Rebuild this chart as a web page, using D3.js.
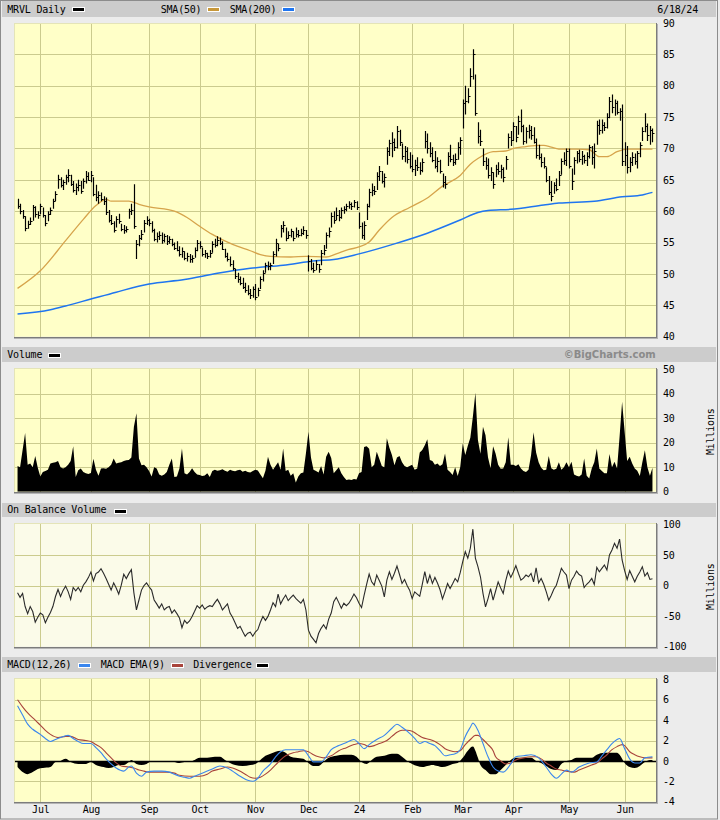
<!DOCTYPE html>
<html><head><meta charset="utf-8">
<script src="https://cdn.jsdelivr.net/npm/d3@7"></script>
<style>
html,body{margin:0;padding:0;background:#ececec;}
svg{display:block;}
text{font-family:"DejaVu Sans Mono",monospace;font-size:10px;fill:#000;letter-spacing:-0.2px;}
</style></head><body>
<svg id="c" width="720" height="820"></svg>
<script>
// ---------------- DATA ----------------
const ticker = "MRVL Daily";
const lastDate = "6/18/24";
const monthLabels = ["Jul","Aug","Sep","Oct","Nov","Dec","24","Feb","Mar","Apr","May","Jun"];
const monthStartIdx = [9,29,52,72,94,115,135,156,176,196,218,240];
const priceTicks = [40,45,50,55,60,65,70,75,80,85,90];
const volumeTicks = [0,10,20,30,40,50];
const obvTicks = [-100,-50,0,50,100];
const macdTicks = [-4,-2,0,2,4,6,8];

const highs = [
62.0,61.2,60.2,59.2,58.5,59.0,61.0,60.8,60.0,61.2,
60.6,59.4,60.0,60.6,62.0,63.2,65.8,65.4,65.0,65.8,
66.7,65.8,64.8,64.4,65.0,64.8,65.2,66.4,66.2,66.4,
65.4,64.2,63.2,63.0,62.4,62.2,60.2,59.4,58.4,59.2,
59.6,58.0,57.8,57.6,60.4,61.2,64.3,55.4,56.2,57.0,
58.6,59.2,58.8,58.4,57.2,56.6,56.8,56.6,56.4,56.2,
56.0,55.6,55.0,55.2,54.4,54.2,53.6,53.4,53.2,53.0,
54.2,55.4,55.2,54.2,53.8,53.4,53.8,55.2,55.6,56.0,
55.8,55.2,54.0,53.4,52.8,52.2,50.8,50.2,49.6,49.4,
48.6,48.2,47.6,48.0,48.4,47.8,49.6,50.6,51.8,52.0,
51.8,53.6,55.6,54.8,57.8,58.4,57.4,56.8,57.2,56.8,
57.4,57.0,57.2,57.6,57.0,53.0,52.4,51.8,52.2,51.6,
53.8,54.6,56.6,57.4,59.8,60.0,60.6,60.2,60.6,60.8,
61.2,61.6,61.4,61.8,61.6,59.8,58.2,58.4,61.2,63.6,
64.4,64.0,66.2,67.2,66.4,66.0,70.2,71.4,72.6,71.6,
73.6,73.0,70.8,70.4,70.2,69.4,69.0,68.2,68.6,67.8,
68.4,72.8,72.4,71.0,70.2,69.6,68.6,68.2,66.0,65.6,
69.4,70.6,69.0,69.2,71.0,71.8,77.8,80.0,79.6,82.8,
85.8,81.8,74.2,73.0,70.0,68.6,68.4,67.0,66.2,67.4,
67.8,67.4,67.0,68.8,72.4,72.8,74.2,73.6,75.2,76.2,
73.8,73.4,73.8,73.6,73.4,71.6,70.6,69.2,68.6,67.0,
65.6,64.8,64.6,65.2,66.4,68.4,69.4,70.0,70.0,66.8,
68.6,69.6,69.8,69.6,69.0,69.4,70.6,70.4,70.8,74.4,
74.6,74.6,74.2,75.6,78.2,78.6,77.8,77.6,76.4,77.0,
71.0,70.4,68.6,69.4,69.2,69.6,71.0,73.4,75.6,74.0,
73.6,73.2];

const lows = [
60.4,59.5,58.8,56.8,57.2,57.8,58.5,59.0,58.8,59.5,
59.0,57.6,58.4,59.4,60.4,61.6,63.6,63.8,63.4,64.2,
64.6,64.0,63.0,62.6,63.2,62.8,63.6,64.4,64.8,64.6,
62.4,61.6,61.2,61.6,61.0,59.4,58.2,57.8,56.6,57.4,
58.0,56.8,56.4,56.6,58.8,59.4,57.2,52.4,54.4,55.4,
56.6,57.8,57.6,56.6,55.2,55.0,55.4,54.8,55.0,54.6,
54.8,54.4,53.8,53.6,52.8,52.6,52.2,52.0,51.8,51.8,
52.6,53.6,54.0,52.8,52.6,52.4,52.6,53.4,54.2,54.4,
54.6,53.8,52.6,52.0,51.2,50.6,49.2,48.6,48.2,47.6,
47.0,46.6,46.0,46.2,45.8,46.4,47.6,48.8,50.2,50.6,
50.6,51.6,52.8,53.6,55.8,56.6,55.2,55.6,55.8,55.2,
55.8,55.8,56.0,56.2,55.6,50.4,50.6,50.2,50.6,50.2,
51.4,53.0,54.0,55.8,57.4,58.0,58.6,58.4,58.8,59.6,
60.0,60.4,60.2,60.6,60.2,57.2,55.6,55.4,58.6,60.6,
62.4,62.6,63.4,64.8,64.4,63.8,67.4,68.8,68.6,69.6,
70.0,70.4,68.2,67.8,67.6,66.8,66.2,65.6,66.4,65.8,
66.2,70.0,69.2,68.6,67.8,66.8,66.2,66.0,63.8,63.6,
67.2,67.8,67.2,67.4,68.2,69.0,73.2,75.4,77.2,79.8,
81.0,75.2,70.8,70.4,67.2,66.6,65.2,64.8,63.6,65.4,
65.8,65.2,64.6,66.6,70.0,70.4,71.2,71.0,72.2,72.6,
70.6,70.8,71.6,71.4,70.8,68.4,68.2,67.0,66.8,64.6,
62.6,61.6,62.8,63.2,64.0,65.8,67.4,67.2,66.8,63.4,
65.8,67.6,67.8,67.4,67.6,67.2,68.4,67.4,66.8,70.6,
72.2,72.4,72.8,73.2,74.8,75.6,75.2,75.4,74.4,67.2,
67.2,66.0,66.2,67.2,67.4,66.8,68.6,71.2,72.6,71.2,
70.6,71.0];

const closes = [
60.8,60.0,59.2,57.4,58.0,58.4,60.6,59.6,59.4,60.8,
59.4,58.2,59.6,60.2,61.6,62.8,65.2,64.2,64.6,65.4,
65.8,64.4,63.4,63.8,64.2,63.2,64.8,65.6,65.0,65.8,
62.8,62.2,62.6,62.0,61.6,59.8,58.6,58.2,57.0,58.8,
58.4,57.2,57.0,57.2,60.0,60.2,57.6,54.8,55.8,56.4,
58.2,58.6,58.2,57.0,55.6,56.0,56.2,55.4,56.0,55.2,
55.6,54.8,54.2,53.8,53.2,53.6,52.6,52.8,52.4,52.6,
53.8,55.0,54.4,53.2,53.4,52.8,53.4,54.8,54.6,55.4,
55.0,54.0,52.8,52.4,51.6,51.0,49.6,49.2,48.6,48.0,
47.4,47.0,46.6,47.6,46.4,47.4,49.2,50.2,51.4,51.2,
51.4,53.2,55.0,54.2,57.4,57.8,55.8,56.2,56.8,55.8,
56.4,56.2,56.6,57.0,56.2,52.0,51.0,50.6,51.6,50.8,
53.4,53.8,56.2,56.8,59.2,58.6,59.4,59.0,60.2,60.4,
60.8,61.2,60.8,61.4,60.6,57.6,56.2,57.8,60.8,63.0,
63.4,63.2,65.6,66.4,64.8,65.4,69.6,70.8,71.0,70.2,
72.8,71.0,68.8,69.6,68.4,67.2,66.8,67.4,67.0,66.6,
67.8,71.2,70.0,69.2,68.2,67.2,68.0,66.4,64.6,64.4,
68.8,68.4,67.8,68.4,70.2,71.4,77.2,77.6,78.4,81.6,
85.0,75.6,72.0,71.2,68.0,67.4,65.8,66.2,64.4,66.8,
66.4,66.8,65.4,68.4,71.8,71.4,73.6,71.8,74.4,73.6,
71.2,72.8,73.0,72.2,71.0,69.0,68.6,67.8,67.2,65.0,
63.0,62.4,64.2,63.6,65.8,68.0,68.2,69.6,67.2,64.8,
68.2,69.2,68.4,68.8,68.2,68.8,70.2,68.6,69.6,73.8,
73.0,73.8,73.4,75.0,77.6,76.6,77.2,75.8,76.0,68.0,
69.0,67.0,67.8,68.6,68.0,69.2,70.6,72.8,73.6,72.2,
73.0,72.4];

const sma50Days   = [0,9,19,26,31,35,37,44,48,52,62,67,72,77,85,92,96,100,108,114,122,126,131,135,139,143,148,155,162,168,175,179,182,188,193,196,201,206,208,211,214,221,226,230,233,237,241,246,251];
const sma50Values = [47.7,50.5,55.3,58.7,60.9,61.9,61.6,61.6,61.1,60.7,60.0,59.0,57.6,56.3,54.7,53.7,53.1,52.8,52.7,52.8,52.7,53.2,53.9,54.3,55.1,57.0,59.0,60.6,62.1,64.0,65.7,67.5,68.4,69.5,69.6,70.0,70.3,70.5,70.5,70.2,69.9,69.9,69.8,68.7,68.7,69.5,69.9,69.9,69.9];
const sma200Days   = [0,13,19,29,39,52,66,79,92,105,118,125,135,149,162,175,182,186,195,208,214,228,239,247,251];
const sma200Values = [43.6,44.3,44.9,46.0,47.1,48.4,49.1,50.1,50.9,51.4,52.1,52.3,53.2,54.8,56.5,58.6,59.8,60.1,60.3,61.0,61.3,61.6,62.3,62.6,63.0];

// volume, millions
const volume = [
10.5,10,17,24,11,11.5,10,14.6,9.8,6.2,
8,8.5,9,11.5,11.8,12,12.5,10,9.5,10,
11,12.5,18.6,6,8.8,9.5,8,7.5,7.2,7.6,
13.5,9,6.5,9.5,9.6,9.4,10,11,13.6,11.5,
11.8,12,12.5,12.8,13,14,26.5,32,13.6,10.8,
11,10,8.5,6.2,10,9.5,7,6.5,7,8,
11,13.6,6,6.2,9.5,17.6,7.5,7,8,9.6,
8,7,6.8,6.4,6.6,7.5,6,8.5,9,8.6,
8.8,9.2,8.6,8.2,9,8.6,8.4,8.8,9,8.2,
8.6,8,7.8,8.5,9,8.7,7,5.5,8.6,14.3,
11,9,10.5,12,9,17.6,8.5,9,6.5,7.5,
3.8,6.2,7.5,7.8,15.6,24.5,14,9,8.5,7.8,
10.5,7,14.3,16.3,13.8,7.5,8.8,10,7.5,6,
4.8,5,4.8,5.2,5,7.5,8,18.3,18.6,17.5,
10,11,16.3,13.5,10.5,10,21.8,18,15,10.8,
14,14.6,12,10.5,10,10.5,11,9,9.5,16,
17,19,21.4,13,12.5,11,11.5,10.5,11.2,15.6,
9,8,6.8,10,6.4,10,19.7,15,18.8,22,
30.6,40.4,21.1,15.5,26.5,23.1,14,9.6,18.6,15.5,
11,9.4,9.5,12,22.2,11,11,10.5,11.2,9.5,
8.5,8,9,14.9,24.3,16,12,9.8,8.8,9,
14.6,9.6,9,9.4,12,9,10,12,10,12.2,
7,6.5,6.2,7,13.6,6.5,5.4,9.5,12,17.6,
9.5,8.5,7.5,7.5,15.4,10,12.2,9.5,22.4,36.7,
24.5,12.5,14.3,11.5,9.5,8.6,6.4,12,16.9,10,
6.5,9.8];

// on balance volume, millions
const obv = [
-11.8,-19.4,-12.9,-34.4,-46,-34.4,-42.5,-60,-52,-45,
-48,-61,-52,-44,-34,-18,-6.5,-18,-8,-1,
-10,-22.6,-3.2,-8.6,-3.2,-10.2,0.5,6,12.9,22,
7.5,19.4,22,27.4,20,11.3,2,-7.5,4.3,-4,
-14,0.5,18.3,11.3,19.4,26,-12,-39.8,-23.7,-7.5,
0,4.3,-2,-7.5,-23.7,-30,-37,-30,-39.8,-36,
-34.4,-45,-39.8,-46,-53,-69,-57,-62,-58,-50.5,
-42,-33,-37,-31.7,-38.7,-35,-33,-34.4,-28,-22.6,
-30,-39.8,-35,-30,-45,-52,-61,-70,-66.7,-75,
-82.8,-78,-76.3,-82.8,-76,-72,-60,-50.5,-57,-50.5,
-40,-28,-34.4,-14,-30,-22,-15.6,-24.7,-20,-15.6,
-21,-25,-29,-22.6,-40,-73,-82.8,-88,-93.5,-78.5,
-70,-64,-71,-55,-45,-26.3,-19.4,-28,-37,-29,
-33,-29,-22,-14,-20,-29,-36,-16,2,18.7,
6,0.5,17,8,-1,-18.7,8.8,22.5,9.9,20,
31.8,18,3.3,9.9,0,-7.7,-21.4,-10.4,-14,-17.6,
2,22.5,3.3,17,3.3,13.2,4,-6.6,-22,-10,
3.3,-5,3,11.5,6,20.9,39,55.4,44.5,61,
92,44.5,30.7,14.3,-13,-35,-21.4,-5,-24,-9,
6,-4,-13,8,23.6,13.2,22,32.4,20,8.8,
12,17,14.3,19.8,6,29,4.4,11.5,2,-10,
-24,-16,-6,0.5,14,28,22,17,-5,8.8,
15,23.6,18,15.4,-3.3,2,6,11.5,1.6,29.6,
22.5,28,33.5,25.3,50,58,69,61,75.8,41.7,
24.2,9.9,24.2,15,6,15,22,30.7,15.4,20.9,
9.9,11];

// MACD(12,26), EMA(9) and divergence, sampled by trading-day index
const macdDays   = [0,2,4,6,9,11,13,15,17,20,22,24,26,29,31,33,35,37,39,42,44,45,47,49,51,54,57,60,62,64,66,68,70,73,75,77,80,83,85,88,91,93,95,97,100,102,104,106,110,113,115,117,120,122,124,127,130,133,135,137,139,142,145,148,150,152,155,157,159,161,163,165,167,169,171,173,175,177,179,180,182,184,186,188,190,192,195,197,200,203,206,209,211,213,215,217,219,222,226,229,231,233,235,237,238,240,242,244,246,248,251];
const macdValues = [5.4,4.5,3.6,3.1,2.6,2.2,1.9,2.1,2.3,2.5,2.2,1.9,1.7,1.7,1.3,0.8,0.2,-0.3,-0.7,-1.0,-0.6,-0.5,-1.2,-1.5,-1.1,-1.0,-1.0,-1.1,-1.3,-1.5,-1.6,-1.7,-1.5,-1.2,-1.0,-0.8,-0.5,-0.7,-1.0,-1.5,-1.9,-2.0,-1.7,-1.0,-0.3,0.4,0.9,1.1,1.1,1.1,0.5,-0.1,-0.1,0.4,1.1,1.5,1.8,2.1,1.7,1.2,1.6,2.1,2.5,3.2,3.6,3.3,2.7,2.2,1.7,1.9,1.7,1.5,1.0,0.5,0.6,0.7,1.1,2.4,3.3,3.7,3.0,1.7,0.4,-0.6,-1.0,-1.1,-0.3,0.4,0.5,0.6,0.3,-0.6,-1.3,-1.7,-1.3,-0.9,-1.1,-0.6,-0.2,-0.1,0.5,1.1,1.7,2.1,2.2,1.2,0.2,-0.2,-0.2,0.3,0.4];
const signalDays   = [0,2,4,7,9,11,13,16,19,21,24,27,29,31,33,35,37,39,41,44,46,48,50,52,56,59,62,64,68,72,75,77,80,83,85,87,90,92,94,96,98,100,102,104,106,109,111,113,115,117,119,121,124,127,130,133,135,137,139,141,143,146,148,150,152,154,156,158,160,163,165,167,169,171,173,175,177,179,181,182,184,186,188,189,191,193,195,197,200,203,205,207,209,211,213,215,217,220,222,225,227,229,231,233,235,237,239,240,242,244,246,248,251];
const signalValues = [6.0,5.3,4.7,4.0,3.5,3.0,2.6,2.3,2.4,2.4,2.1,2.0,1.9,1.6,1.3,0.8,0.3,-0.2,-0.5,-0.6,-0.7,-0.9,-1.0,-1.1,-1.1,-1.1,-1.2,-1.4,-1.5,-1.5,-1.3,-1.0,-0.8,-0.6,-0.7,-0.9,-1.3,-1.6,-1.7,-1.6,-1.3,-0.9,-0.4,0.1,0.5,0.8,0.9,1.0,0.9,0.6,0.4,0.3,0.5,1.0,1.3,1.6,1.7,1.6,1.4,1.5,1.7,2.0,2.4,2.8,3.0,3.0,2.9,2.6,2.3,2.1,1.9,1.6,1.2,1.0,0.9,1.0,1.6,2.1,2.5,2.5,2.1,1.6,1.0,0.4,0.0,-0.3,-0.2,0.1,0.3,0.4,0.4,0.2,-0.2,-0.5,-0.8,-0.9,-1.0,-1.1,-0.9,-0.6,-0.4,-0.2,0.2,0.6,1.1,1.4,1.6,1.5,0.9,0.6,0.4,0.3,0.3];
const divDays   = [0,2,4,6,8,10,13,15,17,19,21,24,27,29,31,34,36,38,40,42,44,45,47,49,51,53,56,60,62,64,66,68,70,72,75,78,80,82,84,86,89,92,94,96,98,100,102,104,106,108,110,113,115,117,119,121,123,126,129,132,134,136,138,140,142,145,148,150,152,154,156,158,160,162,164,166,168,170,172,174,176,178,180,181,182,183,185,187,189,191,193,195,197,200,203,205,207,209,211,213,215,217,219,221,224,227,229,232,235,237,238,240,242,244,246,248,250,251];
const divValues = [-0.6,-1.1,-1.3,-1.1,-0.8,-0.7,-0.6,-0.1,0.0,0.2,-0.1,-0.3,-0.3,-0.1,-0.4,-0.6,-0.7,-0.6,-0.4,-0.4,-0.1,0.1,-0.3,-0.4,-0.3,0.0,0.0,0.0,-0.1,-0.2,-0.1,-0.1,0.1,0.3,0.3,0.4,0.4,0.1,-0.2,-0.4,-0.5,-0.4,-0.3,0.1,0.5,0.7,0.9,1.0,0.8,0.4,0.3,0.2,-0.2,-0.5,-0.5,-0.1,0.3,0.5,0.6,0.6,0.4,-0.1,-0.3,0.1,0.4,0.5,0.7,0.7,0.4,0.0,-0.3,-0.5,-0.6,-0.5,-0.4,-0.5,-0.6,-0.5,-0.3,-0.2,0.3,1.0,1.4,1.0,0.3,-0.4,-0.9,-1.3,-1.3,-0.9,-0.4,0.1,0.3,0.3,0.3,0.0,-0.2,-0.5,-0.8,-0.9,-0.3,0.0,0.1,0.3,0.3,0.3,0.6,0.8,0.8,0.8,0.6,-0.2,-0.6,-0.7,-0.5,-0.1,0.1,0.1];

// ---------------- LAYOUT / STYLE ----------------
const L = 14, R = 656;
const gridColor = "#cbcb8e";
const yellow = "#ffffc8";
const obvFill = "#fbfbe9";
const sma50Color = "#d6a44c", sma50Legend = "#c8983a";
const sma200Color = "#1f75f0";
const macdColor = "#3a86ee", signalColor = "#a8443c";

const svg = d3.select("#c");
svg.append("rect").attr("x",0).attr("y",0).attr("width",720).attr("height",820).attr("fill","#ececec");

const x = d3.scaleLinear().domain([-1.4, 252.4]).range([L, R]);
const yP = d3.scaleLinear().domain([40, 90]).range([336.7, 23]);
const yV = d3.scaleLinear().domain([0, 50]).range([491.7, 369.3]);
const yO = d3.scaleLinear().domain([-100, 100]).range([646.7, 524.3]);
const yM = d3.scaleLinear().domain([-4, 8]).range([801.7, 679.3]);

const px = v => Math.round(v) + 0.5;

function header(top, h){
  svg.append("rect").attr("x",2).attr("y",top).attr("width",714).attr("height",h).attr("fill","#cccccc");
}
function swatch(xx, top, color){
  svg.append("rect").attr("x",xx+0.5).attr("y",top+6.5).attr("width",12).attr("height",4)
    .attr("fill",color).attr("stroke","#ffffff").attr("stroke-width",1);
}
function label(xx, yy, t, anchor){
  svg.append("text").attr("x",xx).attr("y",yy).attr("text-anchor",anchor||"start").text(t);
}

function panel(id, top, bottom, fill, yScale, gridVals){
  const g = svg.append("g");
  g.append("rect").attr("x",L).attr("y",top).attr("width",R-L).attr("height",bottom-top).attr("fill",fill);
  g.selectAll("line.vg").data(monthStartIdx).join("line").attr("class","vg")
    .attr("x1",d=>px(x(d))).attr("x2",d=>px(x(d))).attr("y1",top).attr("y2",bottom)
    .attr("stroke",gridColor).attr("stroke-width",1).attr("shape-rendering","crispEdges");
  g.selectAll("line.hg").data(gridVals).join("line").attr("class","hg")
    .attr("x1",L).attr("x2",R).attr("y1",d=>px(yScale(d))).attr("y2",d=>px(yScale(d)))
    .attr("stroke",gridColor).attr("stroke-width",1).attr("shape-rendering","crispEdges");
  svg.append("clipPath").attr("id",id).append("rect").attr("x",L).attr("y",top).attr("width",R-L).attr("height",bottom-top);
  return g;
}
function frame(top, bottom){
  const g = svg.append("g").attr("shape-rendering","crispEdges");
  g.append("line").attr("x1",L).attr("x2",R).attr("y1",top+0.5).attr("y2",top+0.5).attr("stroke","#e4e4b8");
  g.append("line").attr("x1",L+0.5).attr("x2",L+0.5).attr("y1",top).attr("y2",bottom).attr("stroke","#e4e4b8");
  g.append("line").attr("x1",L).attr("x2",R+1).attr("y1",Math.round(bottom)+0.5).attr("y2",Math.round(bottom)+0.5).attr("stroke","#7c7c7c");
  g.append("line").attr("x1",L).attr("x2",R+2).attr("y1",Math.round(bottom)+1.5).attr("y2",Math.round(bottom)+1.5).attr("stroke","#b4b4b4");
  g.append("line").attr("x1",R+0.5).attr("x2",R+0.5).attr("y1",top).attr("y2",bottom+1).attr("stroke","#7c7c7c");
  g.append("line").attr("x1",R+1.5).attr("x2",R+1.5).attr("y1",top+1).attr("y2",bottom+2).attr("stroke","#b4b4b4");
}
function rightAxis(scale, ticks){
  const ax = d3.axisRight(scale).tickValues(ticks).tickSize(0).tickPadding(7).tickFormat(d3.format("d"));
  const g = svg.append("g").attr("transform",`translate(${R},0)`).call(ax);
  g.select(".domain").remove();
  g.attr("font-family",null).attr("font-size",null);
  g.selectAll("text").attr("fill","#000").text(d=>d<0?"-"+Math.abs(d):d);
}
function millions(cy){
  svg.append("text").attr("transform",`translate(713.5,${cy}) rotate(-90)`).attr("text-anchor","middle").text("Millions");
}

// ---------------- PRICE PANEL ----------------
header(1, 16);
label(7.3, 12.7, ticker); swatch(72, 1, "#000");
label(160.7, 12.7, "SMA(50)"); swatch(207, 1, sma50Legend);
label(229.7, 12.7, "SMA(200)"); swatch(282, 1, sma200Color);
label(698, 12.7, lastDate, "end");

panel("clipP", 23, 336.7, yellow, yP, [45,50,55,60,65,70,75,80,85]);
const gP = svg.append("g").attr("clip-path","url(#clipP)");
const lineP = (days, vals) => d3.line().x((d,i)=>x(days[i])).y(d=>yP(d)).curve(d3.curveMonotoneX)(vals);
gP.append("path").attr("d",lineP(sma200Days, sma200Values)).attr("fill","none").attr("stroke",sma200Color).attr("stroke-width",1.5);
gP.append("path").attr("d",lineP(sma50Days, sma50Values)).attr("fill","none").attr("stroke",sma50Color).attr("stroke-width",1.3);
gP.append("g").selectAll("path").data(highs).join("path")
  .attr("d",(h,i)=>{const xx=px(x(i)); const yc=px(yP(closes[i])); return `M${xx},${yP(h)}V${yP(lows[i])}M${xx},${yc}H${xx+2}`;})
  .attr("fill","none").attr("stroke","#000").attr("stroke-width",1.2);
frame(23, 336.7);
rightAxis(yP, priceTicks);

// ---------------- VOLUME PANEL ----------------
header(347, 15);
label(7.3, 358.3, "Volume"); swatch(48, 347, "#000");
svg.append("text").attr("x",655.7).attr("y",358.3).attr("text-anchor","end")
  .attr("textLength",92).attr("lengthAdjust","spacingAndGlyphs")
  .style("font-family","'DejaVu Sans',sans-serif").style("font-weight","bold").style("font-size","11px").style("letter-spacing","0px")
  .attr("fill","#8a8a8a").style("fill","#8a8a8a").text("©BigCharts.com");
panel("clipV", 368.3, 491.7, yellow, yV, [10,20,30,40]);
svg.append("g").attr("clip-path","url(#clipV)").append("path")
  .attr("d", d3.area().x((d,i)=>x(i)).y0(yV(0)).y1(d=>yV(d))(volume)).attr("fill","#000");
frame(368.3, 491.7);
rightAxis(yV, volumeTicks);
millions(431.7);

// ---------------- OBV PANEL ----------------
header(503, 14);
label(7.3, 513.3, "On Balance Volume"); swatch(114, 503, "#000");
panel("clipO", 523.3, 646.7, obvFill, yO, [-50,0,50]);
svg.append("g").attr("clip-path","url(#clipO)").append("path")
  .attr("d", d3.line().x((d,i)=>x(i)).y(d=>yO(d))(obv)).attr("fill","none").attr("stroke","#2a2a2a").attr("stroke-width",1.1);
frame(523.3, 646.7);
rightAxis(yO, obvTicks);
millions(586.7);

// ---------------- MACD PANEL ----------------
header(657, 15);
label(7.3, 668.3, "MACD(12,26)"); swatch(78, 657, macdColor);
label(100.7, 668.3, "MACD EMA(9)"); swatch(171, 657, signalColor);
label(193.3, 668.3, "Divergence"); swatch(256, 657, "#000");
panel("clipM", 678.3, 801.7, yellow, yM, [-2,0,2,4,6]);
const gM = svg.append("g").attr("clip-path","url(#clipM)");
gM.append("path").attr("d", d3.area().x((d,i)=>x(divDays[i])).y0(yM(0)).y1(d=>yM(d)).curve(d3.curveMonotoneX)(divValues)).attr("fill","#000");
gM.append("line").attr("x1",L).attr("x2",R).attr("y1",px(yM(0))).attr("y2",px(yM(0))).attr("stroke","#000").attr("stroke-width",1.5);
gM.append("path").attr("d", d3.line().x((d,i)=>x(signalDays[i])).y(d=>yM(d)).curve(d3.curveMonotoneX)(signalValues)).attr("fill","none").attr("stroke",signalColor).attr("stroke-width",1.1);
gM.append("path").attr("d", d3.line().x((d,i)=>x(macdDays[i])).y(d=>yM(d)).curve(d3.curveMonotoneX)(macdValues)).attr("fill","none").attr("stroke",macdColor).attr("stroke-width",1.1);
frame(678.3, 801.7);
rightAxis(yM, macdTicks);

const axM = d3.axisBottom(x).tickValues(monthStartIdx).tickFormat((d,i)=>monthLabels[i]).tickSize(0).tickPadding(4.5);
const gx = svg.append("g").attr("transform",`translate(0,801.7)`).call(axM);
gx.select(".domain").remove();
gx.attr("font-family",null).attr("font-size",null);
gx.selectAll("text").attr("fill","#000");

// outer frame
svg.append("rect").attr("x",0.5).attr("y",0.5).attr("width",717).attr("height",818.5)
  .attr("fill","none").attr("stroke","#8c8c8c").attr("stroke-width",1);
</script>
</body></html>
